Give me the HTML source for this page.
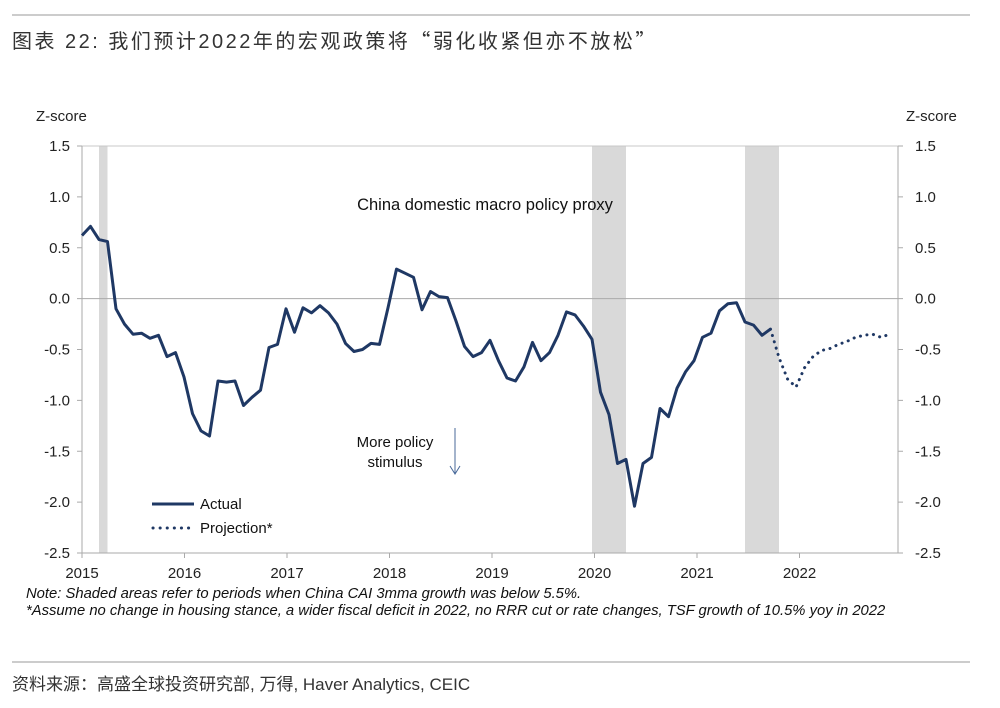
<!DOCTYPE html>
<html><head><meta charset="utf-8"><style>
body{margin:0;background:#fff;}
#wrap{position:relative;width:1000px;height:708px;overflow:hidden;font-family:"Liberation Sans","Noto Sans CJK SC",sans-serif;}
</style></head><body>
<div id="wrap">
<svg id="chart" width="1000" height="708" xmlns="http://www.w3.org/2000/svg" font-family="Liberation Sans, Noto Sans CJK SC, sans-serif">
<line x1="12" y1="15" x2="970" y2="15" stroke="#999" stroke-width="1"/>
<text x="12" y="48" font-size="20" letter-spacing="2.5" fill="#333">图表 22: 我们预计2022年的宏观政策将<tspan font-family="Noto Sans CJK SC, sans-serif">“</tspan>弱化收紧但亦不放松<tspan font-family="Noto Sans CJK SC, sans-serif">”</tspan></text>
<text x="36" y="121" font-size="15" fill="#222">Z-score</text>
<text x="906" y="121" font-size="15" fill="#222">Z-score</text>
<g id="shades"></g>
<g id="grid"></g>
<g id="series"></g>
<text x="485" y="210" font-size="16.5" text-anchor="middle" fill="#111">China domestic macro policy proxy</text>
<text x="395" y="447" font-size="15" text-anchor="middle" fill="#111">More policy</text>
<text x="395" y="467" font-size="15" text-anchor="middle" fill="#111">stimulus</text>
<g stroke="#4a6a9a" stroke-width="1" fill="none">
<line x1="455" y1="428" x2="455" y2="474"/><polyline points="450,466 455,474 460,466"/></g>
<g>
<line x1="152" y1="504" x2="194" y2="504" stroke="#1f3864" stroke-width="3"/>
<text x="200" y="509" font-size="15" fill="#111">Actual</text>
<line x1="153" y1="528" x2="194" y2="528" stroke="#1f3864" stroke-width="3" stroke-dasharray="0.1,7" stroke-linecap="round"/>
<text x="200" y="533" font-size="15" fill="#111">Projection*</text>
</g>
<text x="26" y="598" font-size="14.8" font-style="italic" fill="#111">Note: Shaded areas refer to periods when China CAI 3mma growth was below 5.5%.</text>
<text x="26" y="615" font-size="14.8" font-style="italic" fill="#111">*Assume no change in housing stance, a wider fiscal deficit in 2022, no RRR cut or rate changes, TSF growth of 10.5% yoy in 2022</text>
<line x1="12" y1="662" x2="970" y2="662" stroke="#999" stroke-width="1"/>
<text x="12" y="690" font-size="17" fill="#333">资料来源：高盛全球投资研究部, 万得, Haver Analytics, CEIC</text>
</svg>
</div>
<script>
const yTicks = [1.5, 1.0, 0.5, 0.0, -0.5, -1.0, -1.5, -2.0, -2.5];
const yearLabels = ["2015","2016","2017","2018","2019","2020","2021","2022"];
const actual = [0.62,0.71,0.58,0.56,-0.1,-0.25,-0.35,-0.34,-0.39,-0.36,-0.57,-0.53,
-0.77,-1.13,-1.3,-1.35,-0.81,-0.82,-0.81,-1.05,-0.97,-0.9,-0.48,-0.45,
-0.1,-0.33,-0.09,-0.14,-0.07,-0.14,-0.25,-0.44,-0.52,-0.5,-0.44,-0.45,
-0.09,0.29,0.25,0.21,-0.11,0.07,0.02,0.01,-0.22,-0.47,-0.57,-0.53,-0.41,
-0.61,-0.78,-0.81,-0.67,-0.43,-0.61,-0.53,-0.36,-0.13,-0.16,-0.27,-0.4,
-0.92,-1.14,-1.62,-1.58,-2.04,-1.62,-1.56,-1.08,-1.16,-0.88,-0.72,-0.61,
-0.38,-0.34,-0.12,-0.05,-0.04,-0.23,-0.26,-0.36,-0.3];
const projection = [-0.58,-0.79,-0.87,-0.68,-0.57,-0.51,-0.49,-0.45,-0.42,-0.38,-0.36,-0.35,-0.38,-0.35];
const shadeStarts = [2, 60, 78];
const shadeEnds = [3, 64, 82];

const NS = "http://www.w3.org/2000/svg";
const X0 = 82, X1 = 898, Y0 = 146, Y1 = 553;
const xm = m => X0 + m * 8.5;
const yv = v => Y0 + (1.5 - v) * (Y1 - Y0) / 4;
function mk(tag, attrs, parent){const e=document.createElementNS(NS,tag);for(const k in attrs)e.setAttribute(k,attrs[k]);parent.appendChild(e);return e;}
const shades=document.getElementById('shades'), grid=document.getElementById('grid'), series=document.getElementById('series');

shadeStarts.forEach((s,i)=>{
  const r=mk('rect',{x:xm(s),y:Y0,width:xm(shadeEnds[i])-xm(s),height:Y1-Y0,fill:'#d9d9d9'},shades);
  
  
});
let f=mk('line',{x1:X0,y1:Y0,x2:X1,y2:Y0,stroke:'#c8c8c8'},grid);


f=mk('line',{x1:X0,y1:Y0,x2:X0,y2:Y1,stroke:'#aaa'},grid);


f=mk('line',{x1:X1,y1:Y0,x2:X1,y2:Y1,stroke:'#aaa'},grid);


f=mk('line',{x1:X0,y1:Y1,x2:X1,y2:Y1,stroke:'#aaa'},grid);


f=mk('line',{x1:X0,y1:yv(0),x2:X1,y2:yv(0),stroke:'#aaa'},grid);


yTicks.forEach(v=>{
  const y=yv(v);
  mk('line',{x1:X0-5,y1:y,x2:X0,y2:y,stroke:'#aaa'},grid);
  mk('line',{x1:X1,y1:y,x2:X1+5,y2:y,stroke:'#aaa'},grid);
  const l=mk('text',{x:70,y:y+5,'font-size':15,'text-anchor':'end',fill:'#222'},grid);
  l.textContent=v.toFixed(1);
  
  
  const r=mk('text',{x:915,y:y+5,'font-size':15,fill:'#222'},grid);
  r.textContent=v.toFixed(1);
  
  
});
yearLabels.forEach((t,i)=>{
  const x=X0+i*102.5;
  mk('line',{x1:x,y1:Y1,x2:x,y2:Y1+5,stroke:'#aaa'},grid);
  const l=mk('text',{x:x,y:578,'font-size':15,'text-anchor':'middle',fill:'#222'},grid);
  l.textContent=t;
  
  
});
const ap=actual.map((v,i)=>xm(i).toFixed(1)+','+yv(v).toFixed(1)).join(' ');
const a=mk('polyline',{points:ap,fill:'none',stroke:'#1f3864','stroke-width':3,'stroke-linejoin':'round'},series);


const n=actual.length-1;
const pp=[xm(n).toFixed(1)+','+yv(actual[n]).toFixed(1)].concat(projection.map((v,i)=>xm(n+1+i).toFixed(1)+','+yv(v).toFixed(1))).join(' ');
const p=mk('polyline',{points:pp,fill:'none',stroke:'#1f3864','stroke-width':3,'stroke-dasharray':'0.1,6.5','stroke-linecap':'round'},series);


</script>
</body></html>
